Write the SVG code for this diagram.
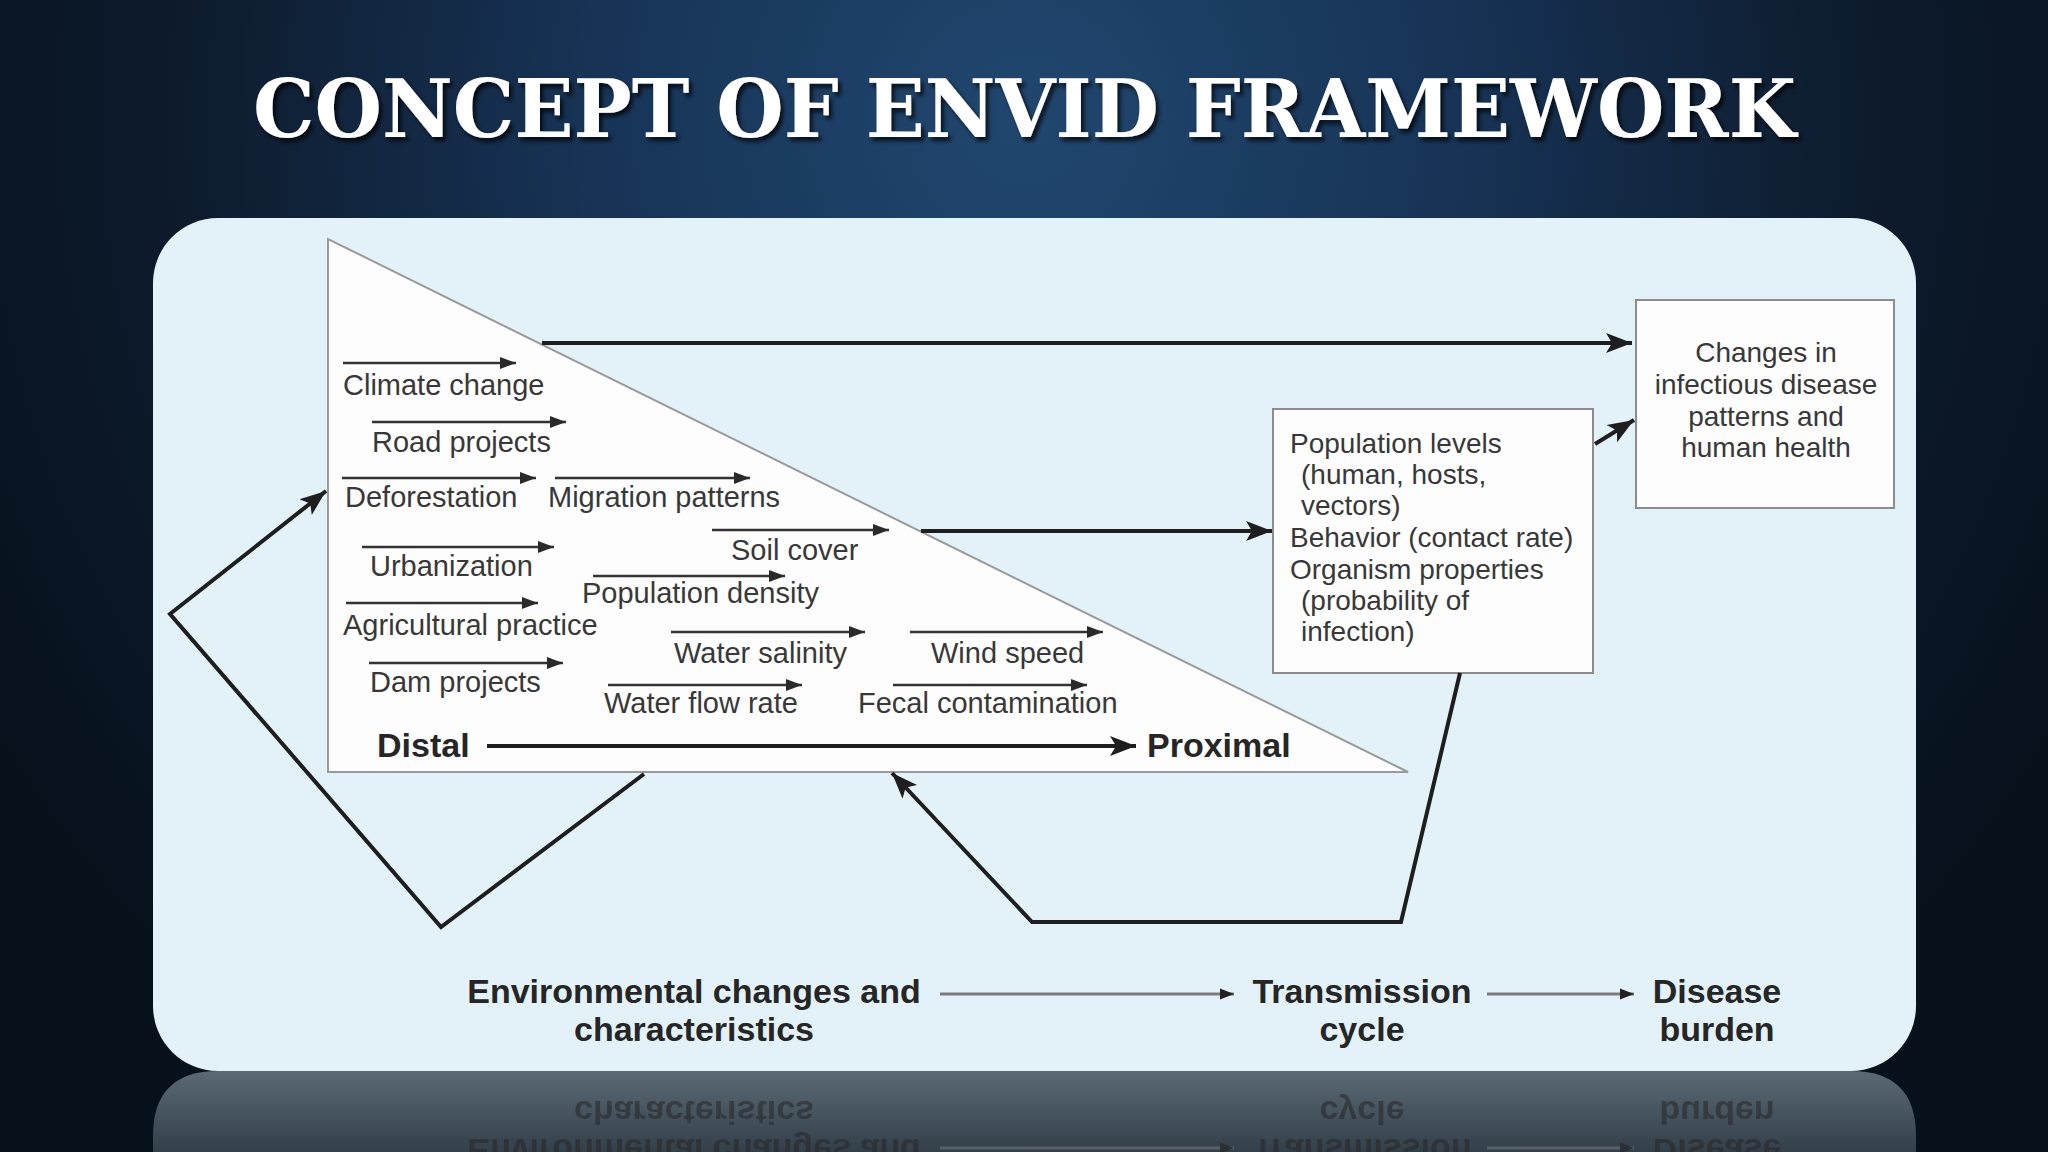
<svg xmlns="http://www.w3.org/2000/svg" xmlns:xlink="http://www.w3.org/1999/xlink" width="2048" height="1152" viewBox="0 0 2048 1152">
<defs>
  <radialGradient id="bg" cx="1024" cy="120" r="1200" gradientUnits="userSpaceOnUse">
    <stop offset="0" stop-color="#21476f"/>
    <stop offset="0.35" stop-color="#173457"/>
    <stop offset="0.7" stop-color="#0d1b2d"/>
    <stop offset="1" stop-color="#07111c"/>
  </radialGradient>
  <linearGradient id="refl" x1="0" y1="1071" x2="0" y2="1152" gradientUnits="userSpaceOnUse">
    <stop offset="0" stop-color="#5a6974"/>
    <stop offset="1" stop-color="#33404a"/>
  </linearGradient>
  <filter id="shadow" x="-5%" y="-20%" width="110%" height="140%">
    <feDropShadow dx="3" dy="4" stdDeviation="2" flood-color="#000" flood-opacity="0.75"/>
  </filter>
  <marker id="big" markerUnits="userSpaceOnUse" markerWidth="28" markerHeight="24" refX="26" refY="12" orient="auto">
    <path d="M0,2 L26,12 L0,22 L6,12 Z" fill="#1e1e1e"/>
  </marker>
  <marker id="small" markerUnits="userSpaceOnUse" markerWidth="18" markerHeight="14" refX="16" refY="7" orient="auto">
    <path d="M0,1 L16,7 L0,13 Z" fill="#2a2a2a"/>
  </marker>
  <marker id="row" markerUnits="userSpaceOnUse" markerWidth="16" markerHeight="14" refX="14" refY="7" orient="auto">
    <path d="M0,1.5 L14,7 L0,12.5 Z" fill="#222"/>
  </marker>
  <style>
    .lbl { font-family: "Liberation Sans", Arial, sans-serif; font-size: 29px; fill: #383838; }
    .box { font-family: "Liberation Sans", Arial, sans-serif; font-size: 28px; fill: #383838; }
    .bold { font-family: "Liberation Sans", Arial, sans-serif; font-weight: bold; fill: #262626; }
    .la { stroke: #333; stroke-width: 2.5; fill: none; marker-end: url(#small); }
    .conn { stroke: #1e1e1e; stroke-width: 4; fill: none; stroke-linejoin: miter; }
    .rowa { stroke: #7a7a7a; stroke-width: 3; fill: none; marker-end: url(#row); }
    .frame { fill: #fdfdfd; stroke: #8c8c8c; stroke-width: 2; }
  </style>
</defs>

<!-- background -->
<rect x="0" y="0" width="2048" height="1152" fill="url(#bg)"/>

<!-- title -->
<g id="title">
  <text x="253" y="137" textLength="1543" lengthAdjust="spacingAndGlyphs" font-family="'DejaVu Serif', 'Liberation Serif', serif" font-weight="bold" font-size="80" fill="#ffffff" filter="url(#shadow)">CONCEPT OF ENVID FRAMEWORK</text>
</g>

<!-- reflection under the panel -->
<g id="reflection">
  <path d="M153,1152 L153,1136 Q153,1071 218,1071 L1851,1071 Q1916,1071 1916,1136 L1916,1152 Z" fill="url(#refl)"/>
  <use xlink:href="#bottom-row" href="#bottom-row" transform="matrix(1,0,0,-1,0,2142)" opacity="0.55"/>
</g>

<!-- panel -->
<g id="panel">
  <rect x="153" y="218" width="1763" height="853" rx="65" ry="65" fill="#e3f2f9"/>
</g>

<!-- triangle node -->
<g id="triangle">
  <path d="M328,239 L328,772 L1408,772 Z" fill="#fdfdfd" stroke="#9a9a9a" stroke-width="2"/>
  <line class="la" x1="343" y1="363" x2="516" y2="363"/>
  <text class="lbl" x="343" y="395">Climate change</text>
  <line class="la" x1="372" y1="422" x2="566" y2="422"/>
  <text class="lbl" x="372" y="452">Road projects</text>
  <line class="la" x1="342" y1="478" x2="536" y2="478"/>
  <text class="lbl" x="345" y="507">Deforestation</text>
  <line class="la" x1="555" y1="478" x2="750" y2="478"/>
  <text class="lbl" x="548" y="507">Migration patterns</text>
  <line class="la" x1="712" y1="530" x2="889" y2="530"/>
  <text class="lbl" x="731" y="560">Soil cover</text>
  <line class="la" x1="362" y1="547" x2="554" y2="547"/>
  <text class="lbl" x="370" y="576">Urbanization</text>
  <line class="la" x1="593" y1="576" x2="785" y2="576"/>
  <text class="lbl" x="582" y="603">Population density</text>
  <line class="la" x1="346" y1="603" x2="538" y2="603"/>
  <text class="lbl" x="343" y="635">Agricultural practice</text>
  <line class="la" x1="671" y1="632" x2="865" y2="632"/>
  <text class="lbl" x="674" y="663">Water salinity</text>
  <line class="la" x1="910" y1="632" x2="1103" y2="632"/>
  <text class="lbl" x="931" y="663">Wind speed</text>
  <line class="la" x1="369" y1="663" x2="563" y2="663"/>
  <text class="lbl" x="370" y="692">Dam projects</text>
  <line class="la" x1="608" y1="685" x2="802" y2="685"/>
  <text class="lbl" x="604" y="713">Water flow rate</text>
  <line class="la" x1="893" y1="685" x2="1087" y2="685"/>
  <text class="lbl" x="858" y="713">Fecal contamination</text>
  <text class="bold" x="377" y="757" font-size="34">Distal</text>
  <line x1="487" y1="746" x2="1136" y2="746" stroke="#1e1e1e" stroke-width="4" marker-end="url(#big)"/>
  <text class="bold" x="1147" y="757" font-size="34">Proximal</text>
</g>

<!-- population / transmission box -->
<g id="transmission-box">
  <rect class="frame" x="1273" y="409" width="320" height="264"/>
  <text class="box" x="1290" y="453">Population levels</text>
  <text class="box" x="1301" y="484">(human, hosts,</text>
  <text class="box" x="1301" y="515">vectors)</text>
  <text class="box" x="1290" y="547">Behavior (contact rate)</text>
  <text class="box" x="1290" y="579">Organism properties</text>
  <text class="box" x="1301" y="610">(probability of</text>
  <text class="box" x="1301" y="641">infection)</text>
</g>

<!-- changes box -->
<g id="changes-box">
  <rect class="frame" x="1636" y="300" width="258" height="208"/>
  <text class="box" x="1766" y="362" text-anchor="middle">Changes in</text>
  <text class="box" x="1766" y="394" text-anchor="middle">infectious disease</text>
  <text class="box" x="1766" y="426" text-anchor="middle">patterns and</text>
  <text class="box" x="1766" y="457" text-anchor="middle">human health</text>
</g>

<!-- bottom row -->
<g id="bottom-row">
  <g id="env-changes">
    <text class="bold" x="694" y="1003" font-size="34" text-anchor="middle">Environmental changes and</text>
    <text class="bold" x="694" y="1041" font-size="34" text-anchor="middle">characteristics</text>
  </g>
  <g id="transmission-cycle">
    <text class="bold" x="1362" y="1003" font-size="34" text-anchor="middle">Transmission</text>
    <text class="bold" x="1362" y="1041" font-size="34" text-anchor="middle">cycle</text>
  </g>
  <g id="disease-burden">
    <text class="bold" x="1717" y="1003" font-size="34" text-anchor="middle">Disease</text>
    <text class="bold" x="1717" y="1041" font-size="34" text-anchor="middle">burden</text>
  </g>
  <g id="row-connectors">
    <line class="rowa" x1="940" y1="994" x2="1234" y2="994"/>
    <line class="rowa" x1="1487" y1="994" x2="1634" y2="994"/>
  </g>
</g>

<!-- connectors -->
<g id="connectors">
  <line class="conn" x1="542" y1="343" x2="1632" y2="343" marker-end="url(#big)"/>
  <line class="conn" x1="921" y1="531" x2="1272" y2="531" marker-end="url(#big)"/>
  <line class="conn" x1="1595" y1="444" x2="1634" y2="420" marker-end="url(#big)"/>
  <polyline class="conn" points="644,774 441,927 170,614 326,491" marker-end="url(#big)"/>
  <polyline class="conn" points="1460,673 1401,922 1032,922 892,773" marker-end="url(#big)"/>
</g>
</svg>
